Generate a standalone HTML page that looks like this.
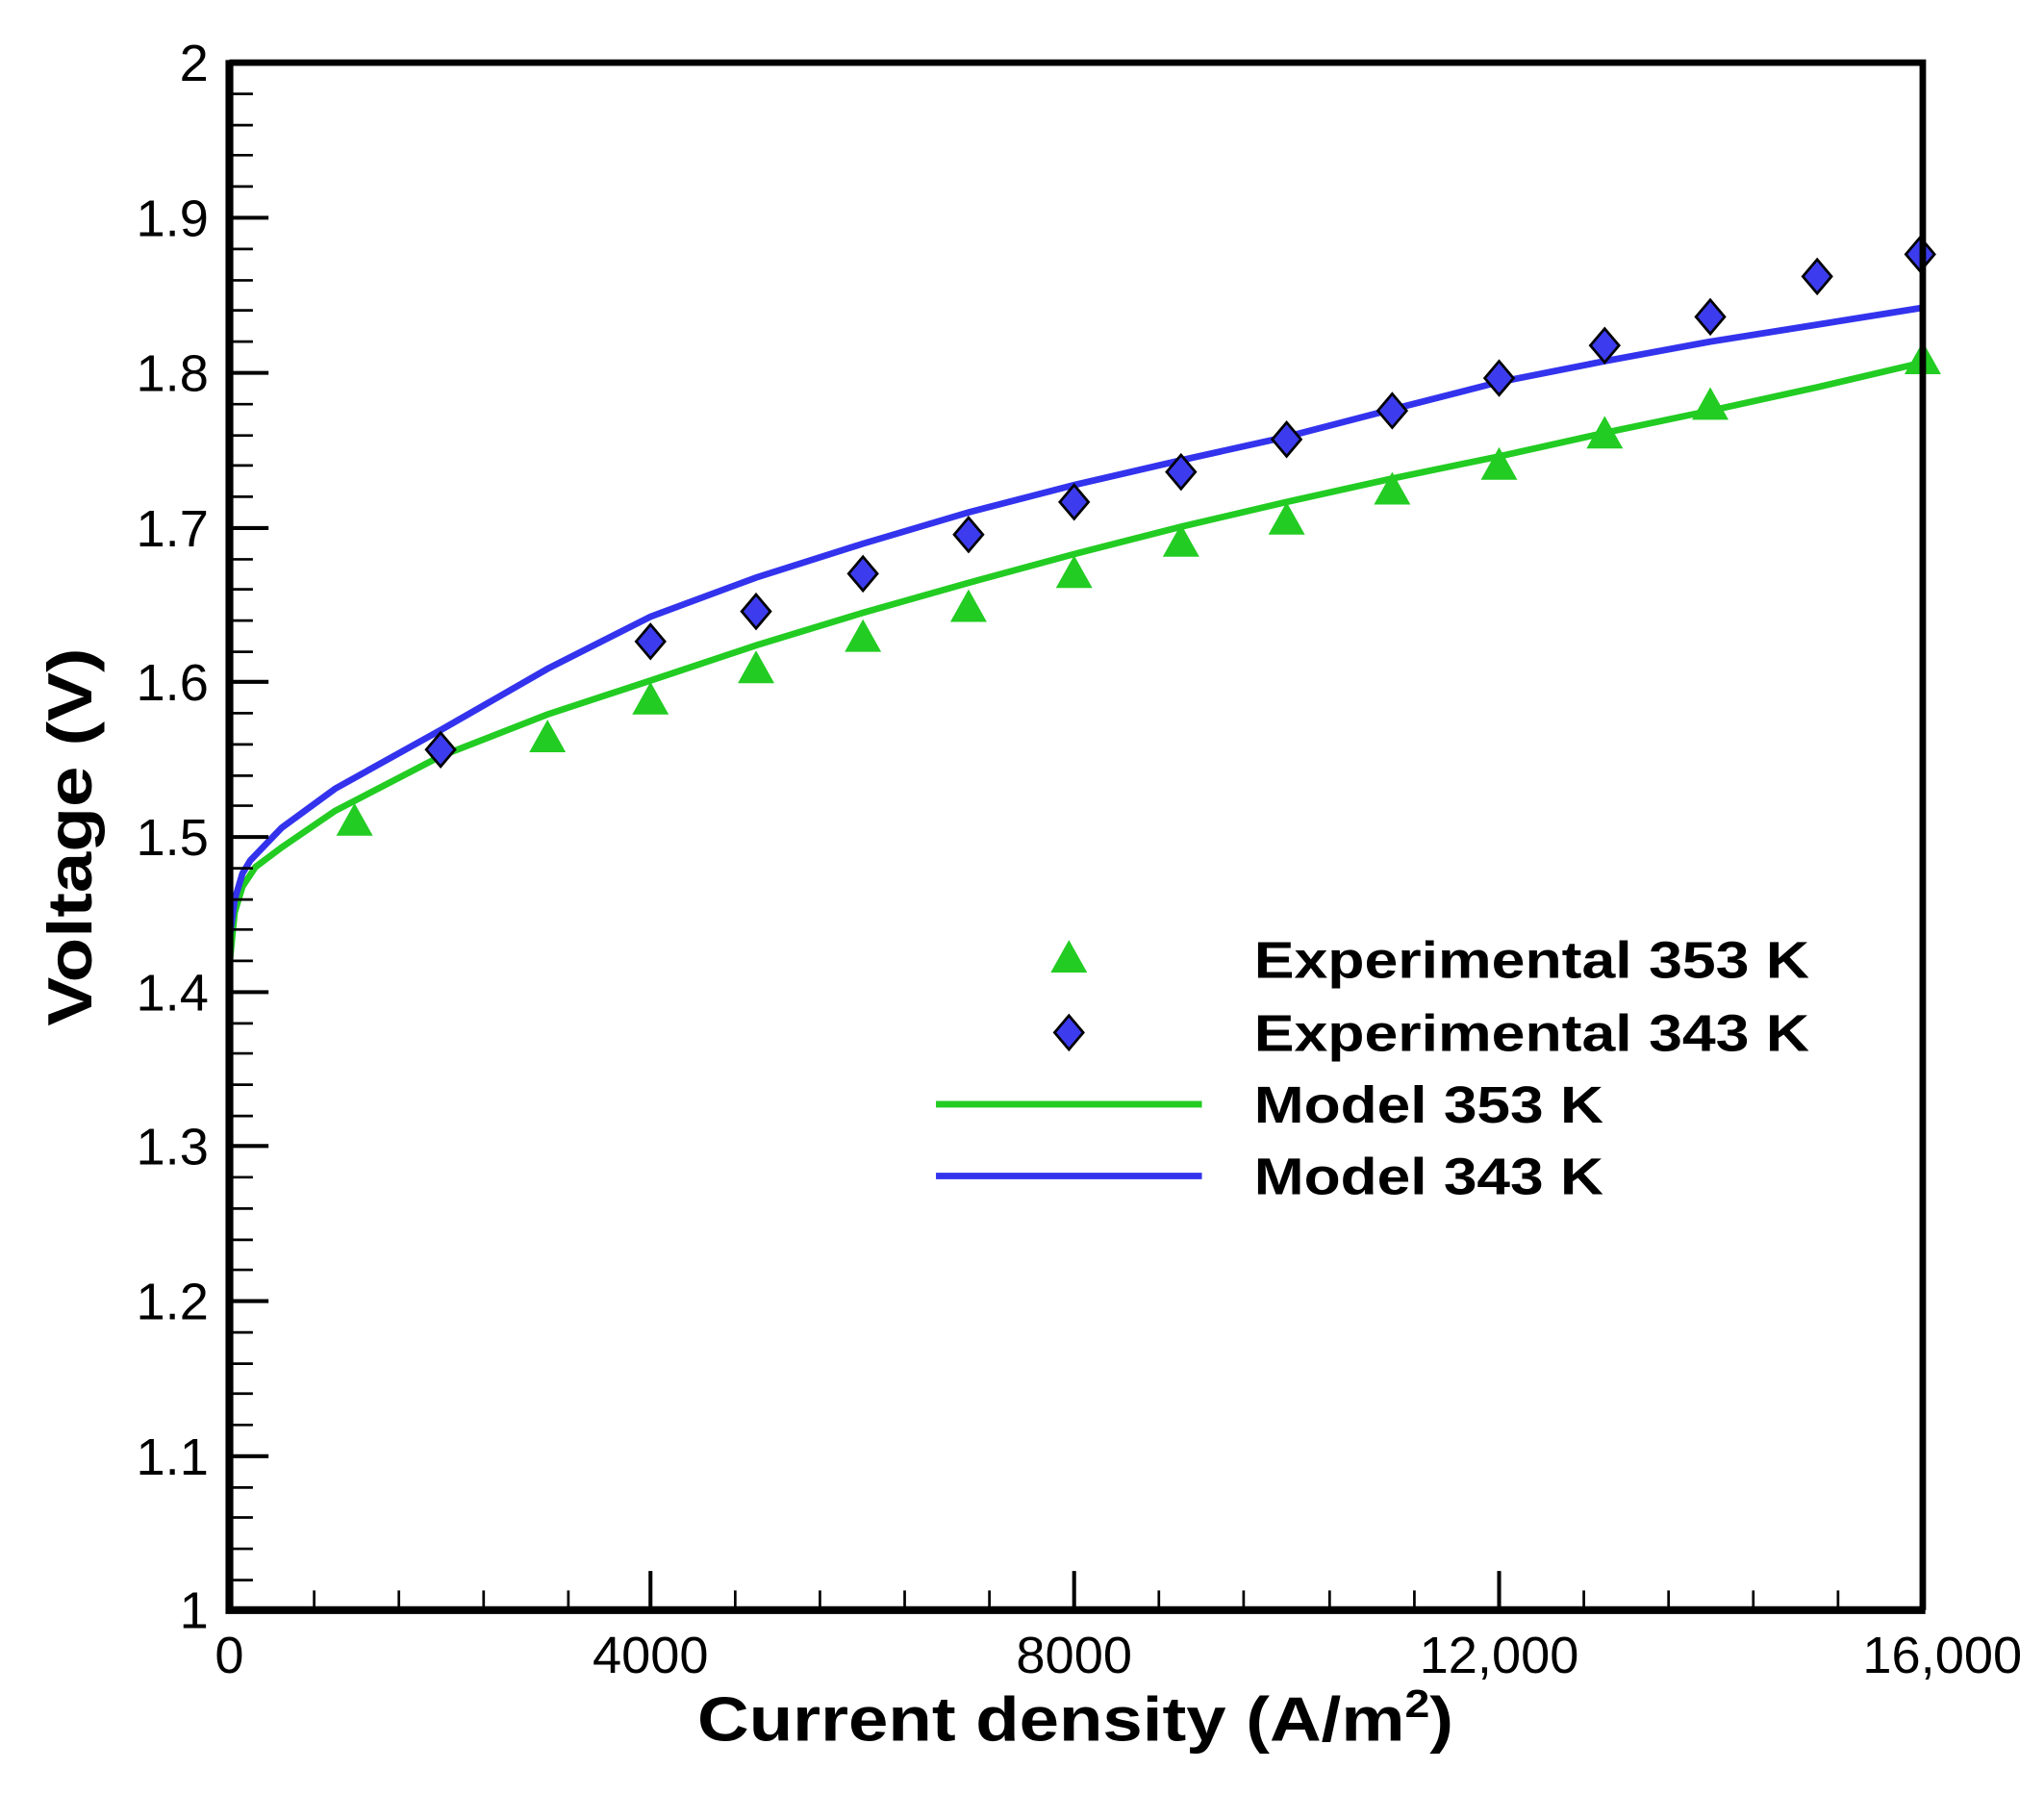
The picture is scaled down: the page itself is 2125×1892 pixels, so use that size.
<!DOCTYPE html>
<html><head><meta charset="utf-8"><style>html,body{margin:0;padding:0;background:#fff}svg{display:block}</style></head>
<body>
<svg width="2125" height="1892" viewBox="0 0 1568 1396" xmlns="http://www.w3.org/2000/svg" font-family="Liberation Sans, Arial, sans-serif">
<rect width="1568" height="1396" fill="#fff"/>
<!-- curves -->
<polyline fill="none" stroke="#22cc22" stroke-width="5" points="176,740 180,700 186,680 196,665 216,650 257,622 338,580 420,548 499,522 580,495 662,470 743,447 824,425 906,404 987,385 1068,367 1150,350 1231,332 1312,315 1394,297 1475,278"/>
<polyline fill="none" stroke="#3333ee" stroke-width="5" points="176,720 180,690 186,670 192,660 216,635 257,605 338,560 420,513 499,473 580,443 662,417 743,393 824,372 906,353 987,335 1068,314 1150,293 1231,277 1312,262 1394,249 1475,236"/>
<!-- green triangles -->
<g fill="#22cc22">
<path id="t" d="M0,-14 L14,11 L-14,11 Z" transform="translate(272,630)"/>
<path d="M0,-14 L14,11 L-14,11 Z" transform="translate(420,566)"/>
<path d="M0,-14 L14,11 L-14,11 Z" transform="translate(499,537)"/>
<path d="M0,-14 L14,11 L-14,11 Z" transform="translate(580,513)"/>
<path d="M0,-14 L14,11 L-14,11 Z" transform="translate(662,489)"/>
<path d="M0,-14 L14,11 L-14,11 Z" transform="translate(743,466)"/>
<path d="M0,-14 L14,11 L-14,11 Z" transform="translate(824,440)"/>
<path d="M0,-14 L14,11 L-14,11 Z" transform="translate(906,416)"/>
<path d="M0,-14 L14,11 L-14,11 Z" transform="translate(987,399)"/>
<path d="M0,-14 L14,11 L-14,11 Z" transform="translate(1068,376)"/>
<path d="M0,-14 L14,11 L-14,11 Z" transform="translate(1150,357)"/>
<path d="M0,-14 L14,11 L-14,11 Z" transform="translate(1231,333)"/>
<path d="M0,-14 L14,11 L-14,11 Z" transform="translate(1312,311)"/>
<path d="M0,-14 L14,11 L-14,11 Z" transform="translate(1475,276)"/>
<path d="M0,-14 L14,11 L-14,11 Z" transform="translate(820,735)"/>
</g>
<!-- blue diamonds -->
<g fill="#3c3cee" stroke="#000" stroke-width="2">
<path d="M0,-13 L11,0 L0,13 L-11,0 Z" transform="translate(338,575)"/>
<path d="M0,-13 L11,0 L0,13 L-11,0 Z" transform="translate(499,492)"/>
<path d="M0,-13 L11,0 L0,13 L-11,0 Z" transform="translate(580,469)"/>
<path d="M0,-13 L11,0 L0,13 L-11,0 Z" transform="translate(662,440)"/>
<path d="M0,-13 L11,0 L0,13 L-11,0 Z" transform="translate(743,410)"/>
<path d="M0,-13 L11,0 L0,13 L-11,0 Z" transform="translate(824,385)"/>
<path d="M0,-13 L11,0 L0,13 L-11,0 Z" transform="translate(906,362)"/>
<path d="M0,-13 L11,0 L0,13 L-11,0 Z" transform="translate(987,337)"/>
<path d="M0,-13 L11,0 L0,13 L-11,0 Z" transform="translate(1068,315)"/>
<path d="M0,-13 L11,0 L0,13 L-11,0 Z" transform="translate(1150,290)"/>
<path d="M0,-13 L11,0 L0,13 L-11,0 Z" transform="translate(1231,265)"/>
<path d="M0,-13 L11,0 L0,13 L-11,0 Z" transform="translate(1312,243)"/>
<path d="M0,-13 L11,0 L0,13 L-11,0 Z" transform="translate(1394,212)"/>
<path d="M0,-13 L11,0 L0,13 L-11,0 Z" transform="translate(1473,195)"/>
<path d="M0,-13 L11,0 L0,13 L-11,0 Z" transform="translate(820,792)"/>
</g>
<!-- frame -->
<g stroke="#000" fill="none">
<path d="M176,48 L1475,48 L1475,1235" stroke-width="5"/>
<path d="M176,46 L176,1235 L1477,1235" stroke-width="6"/>
</g>
<!-- y ticks -->
<g stroke="#000" stroke-width="3">
<path d="M176,167h30M176,286h30M176,405h30M176,523h30M176,642h30M176,761h30M176,879h30M176,998h30M176,1117h30"/>
<path d="M499,1235v-30M824,1235v-30M1150,1235v-30"/>
</g>
<g stroke="#000" stroke-width="2">
<path d="M176,72h18M176,96h18M176,119h18M176,143h18M176,191h18M176,215h18M176,238h18M176,262h18M176,310h18M176,334h18M176,357h18M176,381h18M176,429h18M176,452h18M176,476h18M176,500h18M176,547h18M176,571h18M176,595h18M176,618h18M176,666h18M176,690h18M176,713h18M176,737h18M176,785h18M176,808h18M176,832h18M176,856h18M176,903h18M176,927h18M176,951h18M176,974h18M176,1022h18M176,1046h18M176,1069h18M176,1093h18M176,1141h18M176,1164h18M176,1188h18M176,1212h18"/>
<path d="M241,1235v-15M306,1235v-15M371,1235v-15M436,1235v-15M564,1235v-15M629,1235v-15M694,1235v-15M759,1235v-15M889,1235v-15M954,1235v-15M1020,1235v-15M1085,1235v-15M1215,1235v-15M1280,1235v-15M1345,1235v-15M1410,1235v-15"/>
</g>
<!-- y labels -->
<g font-size="40" text-anchor="end" fill="#000">
<text x="160" y="62">2</text>
<text x="160" y="181">1.9</text>
<text x="160" y="300">1.8</text>
<text x="160" y="419">1.7</text>
<text x="160" y="537">1.6</text>
<text x="160" y="656">1.5</text>
<text x="160" y="775">1.4</text>
<text x="160" y="893">1.3</text>
<text x="160" y="1012">1.2</text>
<text x="160" y="1131">1.1</text>
<text x="160" y="1249">1</text>
</g>
<g font-size="40" text-anchor="middle" fill="#000">
<text x="176" y="1283">0</text>
<text x="499" y="1283">4000</text>
<text x="824" y="1283">8000</text>
<text x="1150" y="1283">12,000</text>
<text x="1490" y="1283">16,000</text>
</g>
<text x="825" y="1335" font-size="48" font-weight="bold" text-anchor="middle" textLength="580" lengthAdjust="spacingAndGlyphs">Current density (A/m<tspan dy="-18" font-size="30">2</tspan><tspan dy="18">)</tspan></text>
<text transform="translate(70,642) rotate(-90)" font-size="48" font-weight="bold" text-anchor="middle" textLength="290" lengthAdjust="spacingAndGlyphs">Voltage (V)</text>
<!-- legend -->
<path d="M718,847H922" stroke="#22cc22" stroke-width="5"/>
<path d="M718,902H922" stroke="#3333ee" stroke-width="5"/>
<g font-size="40" font-weight="bold" fill="#000">
<text x="962" y="750" textLength="426" lengthAdjust="spacingAndGlyphs">Experimental 353 K</text>
<text x="962" y="806" textLength="426" lengthAdjust="spacingAndGlyphs">Experimental 343 K</text>
<text x="962" y="861" textLength="268" lengthAdjust="spacingAndGlyphs">Model 353 K</text>
<text x="962" y="916" textLength="268" lengthAdjust="spacingAndGlyphs">Model 343 K</text>
</g>
</svg>
</body></html>
